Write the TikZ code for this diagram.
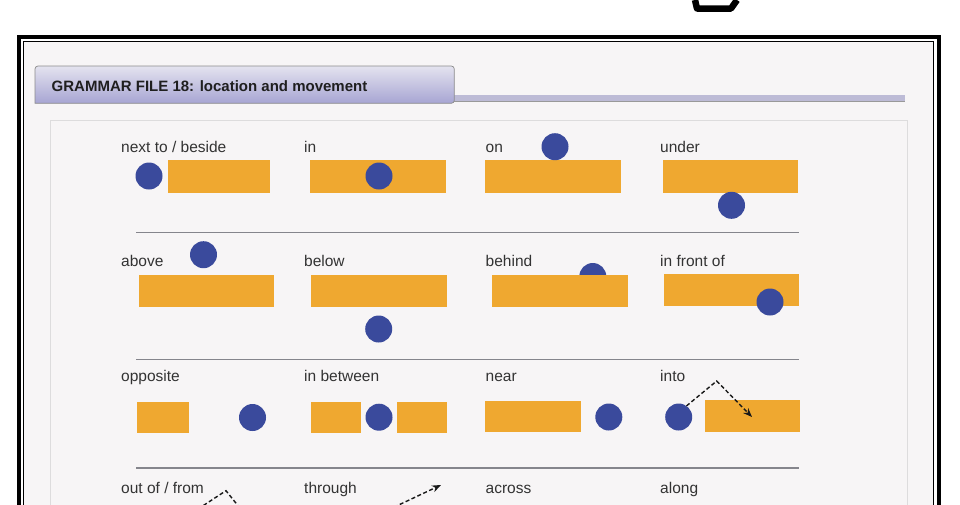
\documentclass[tikz,border=0pt]{standalone}
\usepackage{fontspec}
\setmainfont{Liberation Sans}
\usetikzlibrary{arrows.meta}
\definecolor{barc}{HTML}{EFA830}
\definecolor{ballc}{HTML}{3A4A9C}
\definecolor{txtc}{HTML}{333333}
\definecolor{sepc}{HTML}{85858C}
\definecolor{pagec}{HTML}{F7F5F6}
\definecolor{faintc}{HTML}{DDDCDD}
\definecolor{tabtop}{HTML}{E4E3EF}
\definecolor{tabbot}{HTML}{A7A5D3}
\definecolor{stripc}{HTML}{BDBBD6}
\begin{document}
\begin{tikzpicture}[x=1pt,y=-1pt,
  box/.style={rectangle, fill=barc, draw=none, inner sep=0pt, outer sep=0pt},
  ball/.style={circle, fill=ballc, draw=none, minimum size=27pt, inner sep=0pt, outer sep=0pt},
  lbl/.style={anchor=base west, inner sep=0pt, text=txtc, font=\fontsize{15.5}{18}\selectfont},
  sepline/.style={draw=sepc, line width=1.2pt},
  mv/.style={draw=black!90, line width=1.4pt, dash pattern=on 4pt off 2.5pt},
  mvarrow/.style={mv, -{Stealth[length=9pt,width=7pt]}}]
\useasboundingbox (0,0) rectangle (960,504);
\clip (0,0) rectangle (960,504);
\fill[white] (0,0) rectangle (960,504);
% logo fragment
\draw[line width=6.5pt, line join=round] (695,0) -- (697,8.5) -- (731,8.5) -- (737,0);
% page frame
\fill[pagec] (23,41) rectangle (933.5,520);
\draw[line width=4pt] (19,520) -- (19,37) -- (939.2,37) -- (939.2,520);
\draw[line width=0.9pt] (23,520) -- (23,41) -- (933.5,41) -- (933.5,520);
% faint inner panel
\draw[faintc, line width=0.8pt] (50,520) -- (50,120) -- (907.7,120) -- (907.7,520);
% header strip and tab
\fill[stripc] (454,94.5) rectangle (905,101.7);
\draw[black!40, line width=0.8pt] (454,101.7) -- (905,101.7);
\shade[top color=tabtop, bottom color=tabbot, draw=black!45, line width=0.7pt, rounded corners=3pt]
  (35,103.3) -- (35,66) -- (454.3,66) -- (454.3,103.3) [sharp corners] -- cycle;
\node[anchor=base west, inner sep=0pt, text=black!88, font=\fontsize{15}{17}\selectfont\bfseries] (title) at (51.5,91.7) {GRAMMAR FILE 18: location and movement};
% separators
\draw[sepline] (136,232.7) -- (799,232.7);
\draw[sepline] (136,359.8) -- (799,359.8);
\draw[sepline] (136,468) -- (799,468);
% ---- row 1 ----
\node[lbl] (l11) at (121,152) {next to / beside};
\node[lbl] (l12) at (304,152) {in};
\node[lbl] (l13) at (485.5,152) {on};
\node[lbl] (l14) at (660,152) {under};
\node[box, minimum width=102pt, minimum height=32.5pt] (r11) at (219,176.3) {};
\node[ball] (b11) at (149,176) {};
\node[box, minimum width=136pt, minimum height=32.5pt] (r12) at (378,176.3) {};
\node[ball] (b12) at (379,176) {};
\node[box, minimum width=136pt, minimum height=32.5pt] (r13) at (553.3,176.3) {};
\node[ball] (b13) at (555,146.7) {};
\node[box, minimum width=135.6pt, minimum height=32.5pt] (r14) at (730.5,176.3) {};
\node[ball] (b14) at (731.5,205.3) {};
% ---- row 2 ----
\node[lbl] (l21) at (121,266.5) {above};
\node[lbl] (l22) at (304,266.5) {below};
\node[lbl] (l23) at (485.5,266.5) {behind};
\node[lbl] (l24) at (660,266.5) {in front of};
\node[ball] (b21) at (203.5,254.7) {};
\node[box, minimum width=135.3pt, minimum height=32pt] (r21) at (206.7,291.3) {};
\node[box, minimum width=135.7pt, minimum height=32pt] (r22) at (378.8,291) {};
\node[ball] (b22) at (378.7,329) {};
\node[ball] (b23) at (592.8,276.5) {};
\node[box, minimum width=136pt, minimum height=31.7pt] (r23) at (560.3,290.8) {};
\node[box, minimum width=135.6pt, minimum height=31.7pt] (r24) at (731.5,290.2) {};
\node[ball] (b24) at (770,302) {};
% ---- row 3 ----
\node[lbl] (l31) at (121,381) {opposite};
\node[lbl] (l32) at (304,381) {in between};
\node[lbl] (l33) at (485.5,381) {near};
\node[lbl] (l34) at (660,381) {into};
\node[box, minimum width=52.3pt, minimum height=31.6pt] (r31) at (162.8,417.5) {};
\node[ball] (b31) at (252.5,417.5) {};
\node[box, minimum width=49.7pt, minimum height=31pt] (r32a) at (335.8,417.2) {};
\node[ball] (b32) at (379,417.2) {};
\node[box, minimum width=50pt, minimum height=31pt] (r32b) at (421.7,417.2) {};
\node[box, minimum width=96pt, minimum height=31.6pt] (r33) at (533.3,416.5) {};
\node[ball] (b33) at (608.8,417) {};
\node[ball] (b34) at (678.7,417) {};
\node[box, minimum width=94.7pt, minimum height=31.7pt] (r34) at (752.7,415.8) {};
\coordinate (p34) at (716.7,381);
\coordinate (t34) at (752,417);
\draw[mvarrow] (b34.55) -- (p34) -- (t34);
% ---- row 4 ----
\node[lbl] (l41) at (121,493) {out of / from};
\node[lbl] (l42) at (304,493) {through};
\node[lbl] (l43) at (485.5,493) {across};
\node[lbl] (l44) at (660,493) {along};
\coordinate (s41) at (198,509);
\coordinate (p41) at (226,490.7);
\coordinate (e41) at (243,512);
\draw[mv] (s41) -- (p41) -- (e41);
\coordinate (s42) at (388,510);
\coordinate (t42) at (441,485);
\draw[mvarrow] (s42) -- (t42);
\end{tikzpicture}
\end{document}
